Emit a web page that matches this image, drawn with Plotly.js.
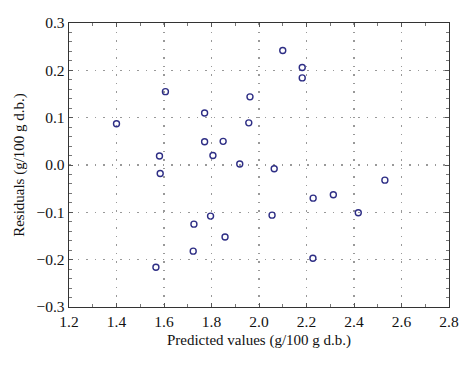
<!DOCTYPE html>
<html><head><meta charset="utf-8">
<script src="https://cdn.plot.ly/plotly-3.0.1.min.js"></script>
<style>html,body{margin:0;padding:0;background:#fff}#chart{width:474px;height:366px}</style>
</head><body><div id="chart"></div>
<script>
const predicted = [1.40,1.606,1.581,1.584,1.771,1.771,1.849,1.806,1.919,2.100,2.182,2.182,1.962,1.957,2.064,2.530,2.228,2.313,2.055,2.418,2.227,1.726,1.796,1.857,1.723,1.566];
const residuals = [0.087,0.155,0.019,-0.018,0.110,0.049,0.050,0.020,0.002,0.242,0.206,0.184,0.144,0.089,-0.008,-0.032,-0.070,-0.063,-0.106,-0.101,-0.197,-0.125,-0.108,-0.152,-0.182,-0.216];
const xTicks = [1.2,1.4,1.6,1.8,2.0,2.2,2.4,2.6,2.8];
const yTicks = [-0.3,-0.2,-0.1,0.0,0.1,0.2,0.3];
const fontFam = '"Liberation Serif", "DejaVu Serif", serif';
Plotly.newPlot('chart', [{
  x: predicted, y: residuals, type: 'scatter', mode: 'markers',
  marker: {symbol: 'circle-open', size: 6, color: '#2e2e85', line: {width: 1.4, color: '#2e2e85'}},
  hoverinfo: 'none'
}], {
  width: 474, height: 366,
  margin: {l: 69, r: 25, t: 23, b: 59},
  paper_bgcolor: '#fff', plot_bgcolor: '#fff',
  font: {family: fontFam, size: 15.5, color: '#111'},
  showlegend: false,
  xaxis: {
    range: [1.2, 2.8], tickvals: xTicks, ticktext: xTicks.map(v => v.toFixed(1)),
    showline: true, linecolor: '#333', linewidth: 1.3, mirror: 'ticks',
    ticks: 'inside', ticklen: 4, tickcolor: '#555',
    minor: {dtick: 0.1, ticks: 'inside', ticklen: 3, tickcolor: '#777', showgrid: false},
    showgrid: true, gridcolor: '#999', griddash: '1.5px,7px', gridwidth: 1.2,
    zeroline: false,
    tickfont: {family: fontFam, size: 15.5, color: '#111'},
    title: {text: 'Predicted values (g/100 g d.b.)', font: {family: fontFam, size: 15, color: '#111'}, standoff: 5}
  },
  yaxis: {
    range: [-0.3, 0.3], tickvals: yTicks, ticktext: yTicks.map(v => (v < 0 ? '\u2212' : '') + Math.abs(v).toFixed(1)),
    showline: true, linecolor: '#333', linewidth: 1.3, mirror: 'ticks',
    ticks: 'inside', ticklen: 4, tickcolor: '#555',
    minor: {dtick: 0.02, ticks: 'inside', ticklen: 3, tickcolor: '#777', showgrid: false},
    showgrid: true, gridcolor: '#999', griddash: '1.5px,7px', gridwidth: 1.2,
    zeroline: false,
    tickfont: {family: fontFam, size: 15.5, color: '#111'},
    title: {text: 'Residuals (g/100 g d.b.)', font: {family: fontFam, size: 15, color: '#111'}, standoff: 8}
  }
}, {displayModeBar: false, staticPlot: true});
</script></body></html>
